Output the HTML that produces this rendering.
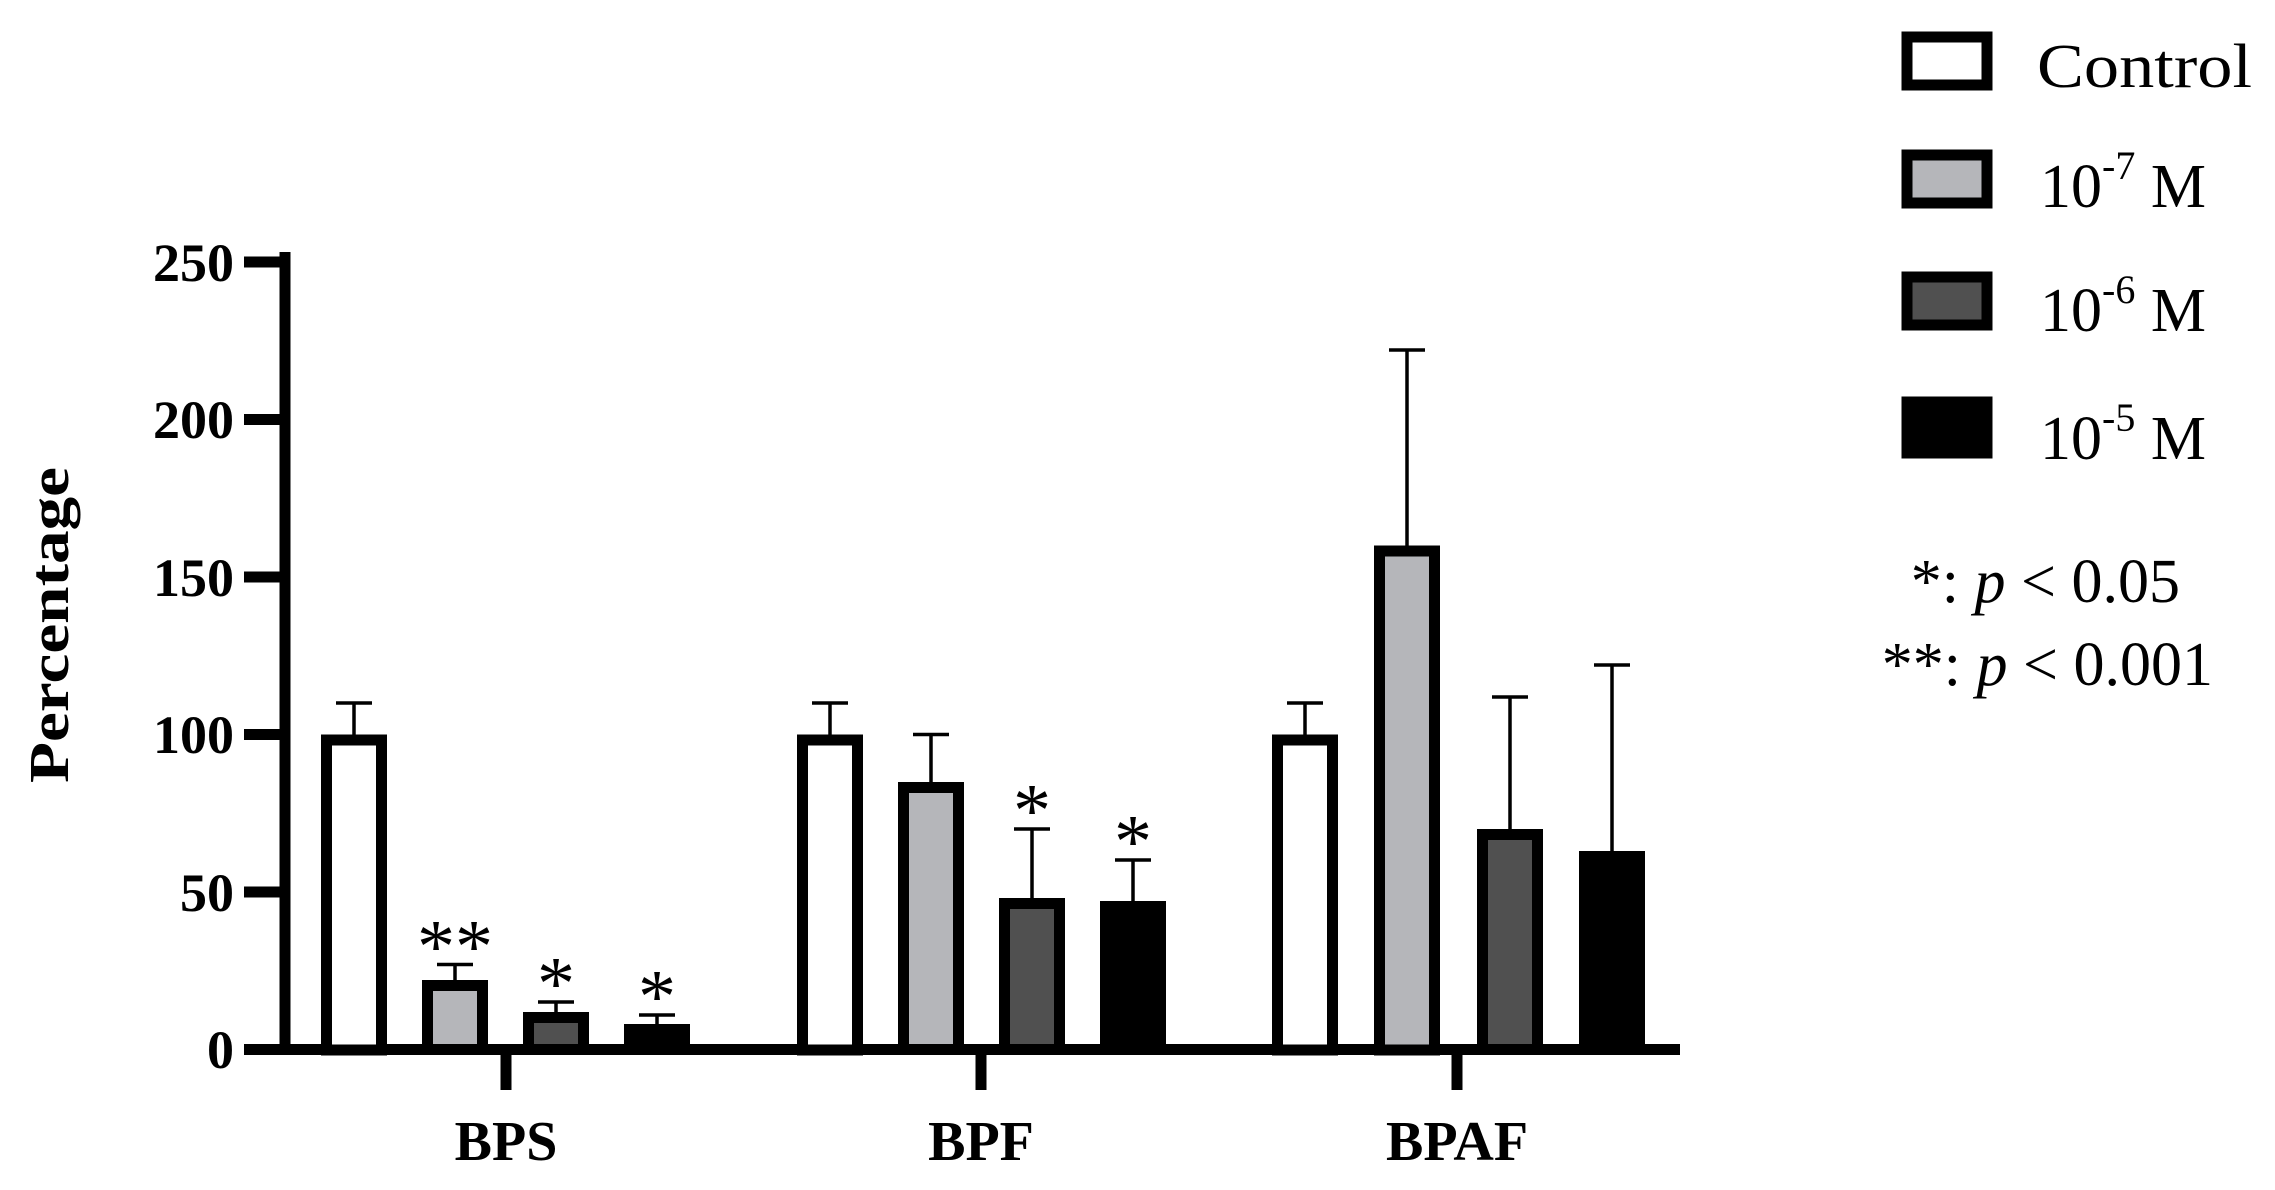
<!DOCTYPE html>
<html><head><style>body{margin:0;background:#fff}svg{display:block}</style></head><body>
<svg width="2275" height="1190" viewBox="0 0 2275 1190" xmlns="http://www.w3.org/2000/svg">
<rect width="2275" height="1190" fill="#fff"/>
<g font-family="Liberation Serif, serif" font-weight="bold" font-size="54" text-anchor="end" fill="#000">
<text x="234" y="281">250</text>
<text x="234" y="438">200</text>
<text x="234" y="596">150</text>
<text x="234" y="753">100</text>
<text x="234" y="911">50</text>
<text x="234" y="1068">0</text>
</g>
<text transform="translate(68,625) rotate(-90)" text-anchor="middle" font-family="Liberation Serif, serif" font-weight="bold" font-size="56" textLength="316" lengthAdjust="spacingAndGlyphs">Percentage</text>
<g stroke="#000" stroke-width="11">
<line x1="285" y1="252" x2="285" y2="1055"/>
<line x1="280" y1="1049.5" x2="1680" y2="1049.5"/>
<line x1="244" y1="262" x2="285" y2="262"/>
<line x1="244" y1="419.5" x2="285" y2="419.5"/>
<line x1="244" y1="577" x2="285" y2="577"/>
<line x1="244" y1="734.5" x2="285" y2="734.5"/>
<line x1="244" y1="892" x2="285" y2="892"/>
<line x1="244" y1="1049.5" x2="285" y2="1049.5"/>
<line x1="506" y1="1049" x2="506" y2="1090"/>
<line x1="981" y1="1049" x2="981" y2="1090"/>
<line x1="1457" y1="1049" x2="1457" y2="1090"/>
</g>
<g font-family="Liberation Serif, serif" font-weight="bold" font-size="56" text-anchor="middle">
<text x="506" y="1160">BPS</text>
<text x="981" y="1160">BPF</text>
<text x="1457" y="1160">BPAF</text>
</g>
<g stroke="#000" stroke-width="11">
<rect x="326.5" y="740" width="55" height="310" fill="#fff"/>
<rect x="427.5" y="985.5" width="55" height="64" fill="#b5b6ba"/>
<rect x="528.5" y="1017.5" width="55" height="32" fill="#505050"/>
<rect x="629.5" y="1029.5" width="55" height="20" fill="#000"/>
<rect x="802.5" y="740" width="55" height="310" fill="#fff"/>
<rect x="903.5" y="787.5" width="55" height="262" fill="#b5b6ba"/>
<rect x="1004.5" y="903.5" width="55" height="146" fill="#505050"/>
<rect x="1105.5" y="906.5" width="55" height="143" fill="#000"/>
<rect x="1277.5" y="740" width="55" height="310" fill="#fff"/>
<rect x="1379.5" y="551" width="55" height="499" fill="#b5b6ba"/>
<rect x="1482.5" y="834.5" width="55" height="215" fill="#505050"/>
<rect x="1584.5" y="856.5" width="55" height="193" fill="#000"/>
</g>
<g stroke="#000" stroke-width="3.5" fill="none">
<path d="M354 735V703M336 703H372"/>
<path d="M455 980V964.5M437 964.5H473"/>
<path d="M556 1012V1002M538 1002H574"/>
<path d="M657 1024V1015M639 1015H675"/>
<path d="M830 735V703M812 703H848"/>
<path d="M931 782V734.5M913 734.5H949"/>
<path d="M1032 898V829M1014 829H1050"/>
<path d="M1133 901V860M1115 860H1151"/>
<path d="M1305 735V703M1287 703H1323"/>
<path d="M1407 546V350M1389 350H1425"/>
<path d="M1510 829V697M1492 697H1528"/>
<path d="M1612 851V665M1594 665H1630"/>
</g>
<g font-family="Liberation Serif, serif" font-size="76" text-anchor="middle">
<text x="455" y="972">**</text>
<text x="556" y="1009">*</text>
<text x="657" y="1022">*</text>
<text x="1032" y="836">*</text>
<text x="1133" y="867">*</text>
</g>
<g stroke="#000" stroke-width="11">
<rect x="1907" y="37" width="80" height="48" fill="#fff"/>
<rect x="1907" y="155" width="80" height="48" fill="#b5b6ba"/>
<rect x="1907" y="277" width="80" height="48" fill="#505050"/>
<rect x="1907" y="402" width="80" height="51" fill="#000"/>
</g>
<g font-family="Liberation Serif, serif" font-size="62" fill="#000">
<text x="2037" y="87" textLength="215" lengthAdjust="spacingAndGlyphs">Control</text>
<text x="2040" y="207">10<tspan font-size="40" dy="-28">-7</tspan><tspan dy="28"> M</tspan></text>
<text x="2040" y="331">10<tspan font-size="40" dy="-28">-6</tspan><tspan dy="28"> M</tspan></text>
<text x="2040" y="459">10<tspan font-size="40" dy="-28">-5</tspan><tspan dy="28"> M</tspan></text>
<text x="2180" y="602" text-anchor="end">*: <tspan font-style="italic">p</tspan> &lt; 0.05</text>
<text x="2213" y="685" text-anchor="end">**: <tspan font-style="italic">p</tspan> &lt; 0.001</text>
</g>
</svg>
</body></html>
